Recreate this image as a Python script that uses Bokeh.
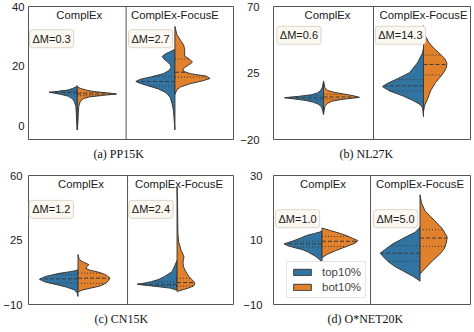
import numpy as np
from bokeh.plotting import figure
from bokeh.models import Range1d, FixedTicker, Span, Label, Title, Legend, LegendItem
from bokeh.layouts import gridplot
from bokeh.embed import file_html
from bokeh.resources import INLINE

# ---------------- data ----------------
models = ["ComplEx", "ComplEx-FocusE"]
groups = ["top10%", "bot10%"]

# Panel (a) PP15K : y levels and half-widths of each violin half
a_cx_top_y = [-1.5, 1, 4, 6.5, 8.0, 9.0, 9.8, 10.4, 10.9, 11.2, 11.5, 11.9, 12.4, 12.9, 13.4]
a_cx_top_w = [0.0, 0.006, 0.01, 0.015, 0.03, 0.05, 0.09, 0.16, 0.24, 0.29, 0.20, 0.10, 0.05, 0.02, 0.0]
a_cx_bot_y = [-1.5, 1, 4, 6.5, 8.0, 9.0, 9.6, 10.1, 10.6, 11.0, 11.4, 11.9, 12.4, 12.9]
a_cx_bot_w = [0.0, 0.006, 0.01, 0.015, 0.03, 0.06, 0.12, 0.25, 0.40, 0.30, 0.17, 0.09, 0.04, 0.0]
a_fe_top_y = [-1.5, 2, 5, 7.5, 9.5, 11, 12.3, 13.4, 14.2, 14.8, 15.5, 16.4, 17.4, 18.5, 19.5, 20.5, 21.5, 22.4, 23.2, 24.0, 24.8, 25.6]
a_fe_top_w = [0.0, 0.008, 0.015, 0.03, 0.05, 0.09, 0.17, 0.28, 0.36, 0.40, 0.36, 0.24, 0.12, 0.06, 0.04, 0.05, 0.08, 0.115, 0.13, 0.10, 0.05, 0.0]
a_fe_bot_y = [10.5, 12.0, 13.0, 14.0, 15.0, 15.8, 16.6, 17.4, 18.3, 19.3, 20.3, 21.3, 22.3, 23.3, 24.3, 25.5, 27.0, 28.5, 30.5, 33.3]
a_fe_bot_w = [0.0, 0.02, 0.06, 0.15, 0.28, 0.36, 0.32, 0.16, 0.08, 0.09, 0.14, 0.18, 0.15, 0.10, 0.10, 0.10, 0.09, 0.06, 0.02, 0.0]
a_quart = {"cx_top": [10.5, 11.1, 11.6], "cx_bot": [10.0, 10.6, 11.1],
           "fe_top": [13.3, 14.8, 16.5], "fe_bot": [16.3, 17.9, 22.4]}
a_delta = ["ΔM=0.3", "ΔM=2.7"]
a_ticks = [0, 20, 40]

# Panel (b) NL27K
b_cx_top_y = [-3.0, -0.5, 2.0, 3.8, 5.2, 6.5, 7.5, 8.3, 9.2, 10.3, 11.5, 13.0, 15.5, 19.6]
b_cx_top_w = [0.0, 0.008, 0.02, 0.05, 0.10, 0.18, 0.30, 0.39, 0.25, 0.12, 0.06, 0.03, 0.01, 0.0]
b_cx_bot_y = [-3.0, -0.5, 2.5, 4.5, 6.0, 7.3, 8.5, 9.6, 10.8, 12.0, 13.2, 15.0, 19.6]
b_cx_bot_w = [0.0, 0.006, 0.015, 0.04, 0.09, 0.20, 0.36, 0.30, 0.20, 0.10, 0.04, 0.015, 0.0]
b_fe_top_y = [-4.5, -1.0, 1.5, 3.5, 6.2, 9.6, 12.9, 15.8, 18.0, 20.8, 25.2, 31.9, 38.6, 42.0]
b_fe_top_w = [0.0, 0.005, 0.01, 0.03, 0.10, 0.21, 0.34, 0.41, 0.36, 0.27, 0.14, 0.06, 0.01, 0.0]
b_fe_bot_y = [-1.0, 2.8, 7.3, 12.9, 18.5, 24.1, 28.0, 31.5, 35.0, 38.6, 42.0, 45.4, 49.9, 53.0, 57.0]
b_fe_bot_w = [0.0, 0.01, 0.04, 0.07, 0.12, 0.19, 0.225, 0.235, 0.21, 0.155, 0.10, 0.056, 0.02, 0.008, 0.0]
b_quart = {"cx_top": [6.8, 8.2, 9.6], "cx_bot": [7.4, 8.8, 10.4],
           "fe_top": [12.9, 16.3, 20.5], "fe_bot": [23.7, 30.8, 37.1]}
b_delta = ["ΔM=0.6", "ΔM=14.3"]
b_ticks = [-20, 25, 70]

# Panel (c) CN15K
c_cx_top_y = [-5.6, -3.5, -2.0, -0.5, 0.7, 2.2, 3.7, 5.2, 6.9, 7.8, 8.4, 9.0]
c_cx_top_w = [0.0, 0.01, 0.04, 0.12, 0.21, 0.33, 0.39, 0.33, 0.19, 0.08, 0.02, 0.0]
c_cx_bot_y = [-3.2, -2.2, -1.2, 0.0, 1.5, 3.0, 4.4, 5.8, 7.0, 7.8, 8.6, 9.6, 10.6, 11.6, 12.6, 13.6, 15.0, 17.1]
c_cx_bot_w = [0.0, 0.04, 0.12, 0.22, 0.28, 0.31, 0.32, 0.29, 0.24, 0.19, 0.12, 0.08, 0.09, 0.11, 0.07, 0.03, 0.01, 0.0]
c_fe_top_y = [-2.2, -1.1, 0.1, 0.6, 1.0, 1.6, 2.4, 3.5, 5.1, 7.8, 11.4, 14.0]
c_fe_top_w = [0.0, 0.07, 0.26, 0.35, 0.40, 0.33, 0.26, 0.19, 0.13, 0.05, 0.02, 0.0]
c_fe_bot_y = [-2.9, -1.1, 0.2, 1.7, 3.5, 5.2, 6.9, 8.7, 10.5, 12.5, 14.5, 15.8, 17.2, 19.4, 21.5, 24.0, 28.0, 35.0, 45.0, 53.6]
c_fe_bot_w = [0.0, 0.115, 0.17, 0.18, 0.15, 0.12, 0.10, 0.08, 0.065, 0.06, 0.065, 0.07, 0.06, 0.04, 0.03, 0.016, 0.009, 0.007, 0.005, 0.0]
c_quart = {"cx_top": [1.6, 3.9, 6.2], "cx_bot": [1.5, 4.3, 7.0],
           "fe_top": [0.2, 1.0, 2.4], "fe_bot": [0.0, 1.9, 4.2]}
c_delta = ["ΔM=1.2", "ΔM=2.4"]
c_ticks = [-10, 25, 60]

# Panel (d) O*NET20K
d_cx_top_y = [3.2, 3.8, 5.0, 6.2, 7.0, 7.6, 8.2, 8.8, 9.8, 10.6, 11.4, 12.0, 12.4, 12.8]
d_cx_top_w = [0.0, 0.02, 0.07, 0.14, 0.20, 0.28, 0.35, 0.39, 0.29, 0.22, 0.16, 0.08, 0.03, 0.0]
d_cx_bot_y = [4.5, 5.5, 6.7, 7.5, 8.3, 9.0, 9.8, 10.6, 11.4, 12.1, 12.9, 13.7]
d_cx_bot_w = [0.0, 0.05, 0.14, 0.21, 0.28, 0.34, 0.37, 0.31, 0.25, 0.18, 0.09, 0.0]
d_fe_top_y = [-2.8, -2.3, -1.3, 0.5, 1.8, 3.1, 4.5, 5.9, 7.3, 8.8, 10.9, 12.4, 13.8, 14.2]
d_fe_top_w = [0.0, 0.02, 0.07, 0.18, 0.26, 0.32, 0.37, 0.41, 0.35, 0.28, 0.15, 0.05, 0.005, 0.0]
d_fe_bot_y = [-0.5, 1.1, 3.6, 5.5, 7.3, 9.0, 10.9, 13.5, 16.0, 19.1, 21.5, 24.0]
d_fe_bot_w = [0.0, 0.05, 0.13, 0.20, 0.25, 0.27, 0.28, 0.23, 0.15, 0.05, 0.015, 0.0]
d_quart = {"cx_top": [7.8, 8.8, 9.6], "cx_bot": [8.0, 9.6, 11.1],
           "fe_top": [3.4, 5.9, 8.3], "fe_bot": [8.0, 10.6, 13.2]}
d_delta = ["ΔM=1.0", "ΔM=5.0"]
d_ticks = [-10, 10, 30]

captions = ["(a) PP15K", "(b) NL27K", "(c) CN15K", "(d) O*NET20K"]

# ---------------- style ----------------
BLUE = "#3274A1"
ORANGE = "#E1812C"
EDGE = "#3a3a3a"
FRAME = "#555555"
SANS = "Liberation Sans"
SERIF = "Liberation Serif"
FS = "11.3px"


def draw_half(p, center, ys, ws, side, color, quart):
    ys = np.asarray(ys, dtype=float)
    ws = np.asarray(ws, dtype=float)
    sgn = -1.0 if side == "left" else 1.0
    xs = center + sgn * ws
    px = list(xs) + [center, center]
    py = list(ys) + [ys[-1], ys[0]]
    r = p.patch(px, py, fill_color=color, line_color=EDGE, line_width=1)
    for i, q in enumerate(quart):
        w = float(np.interp(q, ys, ws))
        p.line([center, center + sgn * w], [q, q], line_color=EDGE, line_width=1,
               line_dash="4 2" if i == 1 else "1 2")
    return r


def make_panel(cfg):
    p = figure(width=237, height=166, x_range=Range1d(0, cfg["xmax"]),
               y_range=Range1d(cfg["ymin"], cfg["ymax"]), output_backend="svg",
               toolbar_location=None, tools="",
               min_border_left=cfg["bl"], min_border_right=cfg["br"],
               min_border_top=cfg["bt"], min_border_bottom=cfg["bb"])
    p.xaxis.visible = False
    p.xgrid.visible = False
    p.ygrid.visible = False
    p.outline_line_color = FRAME
    p.outline_line_width = 1
    p.background_fill_color = "white"
    p.border_fill_color = "white"
    ax = p.yaxis[0]
    ax.ticker = FixedTicker(ticks=cfg["ticks"])
    ax.major_label_overrides = {t: (str(t).replace("-", "\u2212")) for t in cfg["ticks"]}
    ax.axis_line_color = None
    ax.major_tick_line_color = None
    ax.minor_tick_line_color = None
    ax.major_tick_out = 0
    ax.major_tick_in = 0
    ax.minor_tick_out = 0
    ax.minor_tick_in = 0
    ax.major_label_standoff = cfg["standoff"]
    ax.major_label_text_font = SANS
    ax.major_label_text_font_size = FS
    ax.major_label_text_color = "#1a1a1a"

    p.add_layout(Span(location=1, dimension="height", line_color=FRAME, line_width=1))

    d = cfg["data"]
    q = cfg["quart"]
    rb = draw_half(p, 0.5, d[0], d[1], "left", BLUE, q["cx_top"])
    ro = draw_half(p, 0.5, d[2], d[3], "right", ORANGE, q["cx_bot"])
    c2 = cfg["c2"]
    draw_half(p, c2, d[4], d[5], "left", BLUE, q["fe_top"])
    draw_half(p, c2, d[6], d[7], "right", ORANGE, q["fe_bot"])

    for xc, name in zip(cfg["title_x"], models):
        p.add_layout(Label(x=xc, y=cfg["title_y"], text=name, text_align="center",
                           text_baseline="middle", text_font=SANS, text_font_size=FS,
                           text_color="#1a1a1a"))
    for xl, txt in zip(cfg["dm_x"], cfg["delta"]):
        p.add_layout(Label(x=xl, y=cfg["dm_y"], text=txt, text_align="left", text_baseline="top",
                           text_font=SANS, text_font_size="11px", text_color="#1a1a1a",
                           background_fill_color="#fbf8f1", background_fill_alpha=1.0,
                           border_line_color="#dcd6c8", border_line_width=1,
                           padding=3, border_radius=3))
    p.add_layout(Title(text=cfg["caption"], align="left", offset=cfg["cap_off"],
                       text_font=SERIF, text_font_size="12px", text_font_style="normal",
                       text_color="#111111", standoff=cfg["cap_standoff"]), "below")
    return p, rb, ro


cfgs = [
    dict(xmax=2.10, ymin=-4.7, ymax=40, bl=26, br=4, bt=6, bb=27, ticks=a_ticks, standoff=4,
         data=[a_cx_top_y, a_cx_top_w, a_cx_bot_y, a_cx_bot_w, a_fe_top_y, a_fe_top_w, a_fe_bot_y, a_fe_bot_w],
         quart=a_quart, c2=1.5, title_x=[0.52, 1.5], title_y=37.0, dm_x=[0.01, 1.024], dm_y=32.2,
         delta=a_delta, caption=captions[0], cap_off=65, cap_standoff=10),
    dict(xmax=1.97, ymin=-20, ymax=70, bl=34, br=4, bt=5, bb=27, ticks=b_ticks, standoff=14,
         data=[b_cx_top_y, b_cx_top_w, b_cx_bot_y, b_cx_bot_w, b_fe_top_y, b_fe_top_w, b_fe_bot_y, b_fe_bot_w],
         quart=b_quart, c2=1.5, title_x=[0.54, 1.5], title_y=64.0, dm_x=[0.033, 1.017], dm_y=56.6,
         delta=b_delta, caption=captions[1], cap_off=66, cap_standoff=10),
    dict(xmax=2.07, ymin=-10, ymax=60, bl=26, br=2, bt=8, bb=27, ticks=c_ticks, standoff=6,
         data=[c_cx_top_y, c_cx_top_w, c_cx_bot_y, c_cx_bot_w, c_fe_top_y, c_fe_top_w, c_fe_bot_y, c_fe_bot_w],
         quart=c_quart, c2=1.5, title_x=[0.53, 1.52], title_y=55.4, dm_x=[0.007, 1.013], dm_y=46.5,
         delta=c_delta, caption=captions[2], cap_off=66, cap_standoff=10),
    dict(xmax=2.03, ymin=-10, ymax=30, bl=32, br=2, bt=9, bb=28, ticks=d_ticks, standoff=11,
         data=[d_cx_top_y, d_cx_top_w, d_cx_bot_y, d_cx_bot_w, d_fe_top_y, d_fe_top_w, d_fe_bot_y, d_fe_bot_w],
         quart=d_quart, c2=1.51, title_x=[0.51, 1.51], title_y=27.4, dm_x=[0.02, 1.03], dm_y=19.4,
         delta=d_delta, caption=captions[3], cap_off=54, cap_standoff=10),
]

figs = []
for i, cfg in enumerate(cfgs):
    p, rb, ro = make_panel(cfg)
    if i == 3:
        leg = Legend(items=[LegendItem(label=groups[0], renderers=[rb]),
                            LegendItem(label=groups[1], renderers=[ro])],
                     location=(13, 6), orientation="vertical", glyph_width=22, glyph_height=8,
                     label_height=12, label_standoff=9, spacing=3, padding=4, margin=0,
                     label_text_font=SANS, label_text_font_size="11.5px",
                     border_line_color="#cccccc", background_fill_alpha=0.85)
        p.add_layout(leg)
    figs.append(p)

grid = gridplot([[figs[0], figs[1]], [figs[2], figs[3]]], toolbar_location=None)
open("out.html", "w").write(file_html(grid, INLINE))
